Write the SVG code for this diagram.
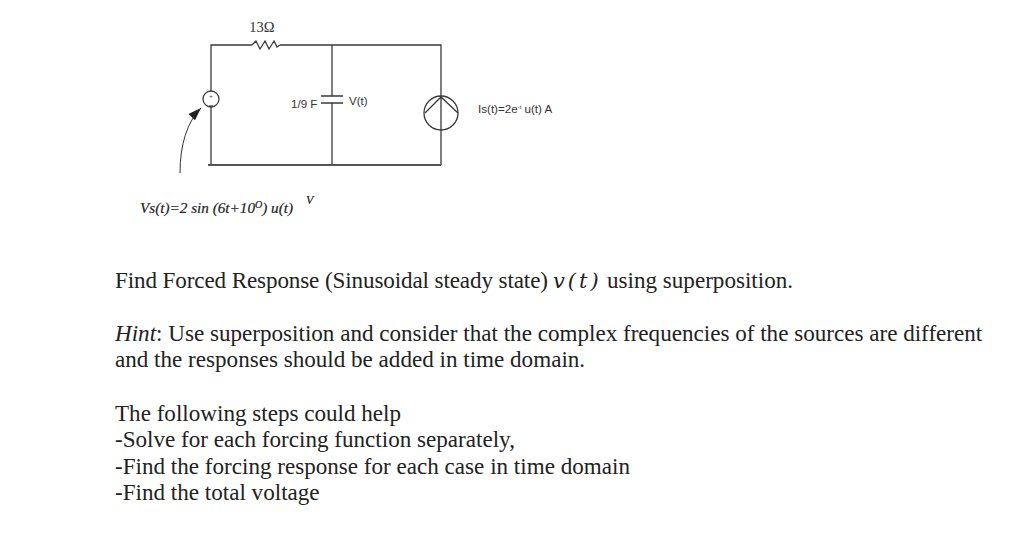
<svg xmlns="http://www.w3.org/2000/svg" width="1024" height="551" viewBox="0 0 1024 551">
<style>
.w{fill:none;stroke:#3a3a3a;stroke-width:1.3}
.b{fill:none;stroke:#555;stroke-width:1.8}
.s{font-family:"Liberation Sans",Arial,sans-serif;font-size:11.6px;fill:#333}
.i{font-family:"Liberation Serif","Times New Roman",serif;font-style:italic;font-size:15.2px;fill:#222;stroke:#222;stroke-width:0.2px}
.t{font-family:"Liberation Serif","Times New Roman",serif;font-size:23.1px;fill:#222}
.m{font-family:"DejaVu Serif",serif;font-style:italic;font-size:21px;letter-spacing:3px;fill:#222}
</style>
<defs><marker id="ah" markerWidth="14" markerHeight="10" refX="13" refY="4.500" orient="auto" markerUnits="userSpaceOnUse"><path d="M0,0L13,4.500L0,9Z" fill="#222"/></marker></defs>
<rect width="1024" height="551" fill="#fff"/>
<g id="connectors">
<path class="w" d="M211,91V45H252"/>
<path class="w" d="M280,45H441V97"/>
<path class="w" d="M332,45V96"/>
<path class="w" d="M332,103V165"/>
<path class="w" d="M211,107V165"/>
<path class="w" d="M441,130V165"/>
<path class="b" d="M208,165H441"/>
<path fill="none" stroke="#333" stroke-width="1" d="M180,173C180,145 187,122 201,108" marker-end="url(#ah)"/>
</g>
<g id="resistor"><path class="w" d="M252,45L256,41L260,49L265,41L269,49L274,41L277,47L280,45"/><text x="262" y="32" text-anchor="middle" font-family="Liberation Serif,serif" font-size="14.5" fill="#333">13Ω</text></g>
<g id="vsource"><circle class="w" cx="211" cy="99" r="8"/><text x="211" y="98" text-anchor="middle" font-family="Liberation Sans,sans-serif" font-size="6" fill="#333">+</text><path class="w" stroke-width="0.8" d="M209,106H213" /></g>
<g id="capacitor"><path class="w" d="M321,96H343M321,103H343"/><text class="s" x="291" y="108">1/9 F</text><text class="s" x="349" y="105">V(t)</text></g>
<g id="isource"><circle class="w" cx="441" cy="113" r="17"/><path class="w" d="M425,113L441,97L458,113M441,97V130"/><text class="s" x="478" y="113">Is(t)=2e<tspan style="font-size:6px" dy="-4">-t</tspan><tspan dy="4"> u(t) A</tspan></text></g>
<g id="vs-label"><text class="i" x="140" y="213">Vs(t)=2 sin (6t+10<tspan style="font-size:10px" dy="-5">O</tspan><tspan dy="5">) u(t)</tspan></text><text class="i" style="font-size:12px" x="306" y="204">V</text></g>
<g id="body">
<text class="t" x="115" y="287.500" textLength="433" lengthAdjust="spacing">Find Forced Response (Sinusoidal steady state)</text>
<text class="m" x="553" y="287.500">v(t)</text>
<text class="t" x="607" y="287.500">using superposition.</text>
<text class="t" x="115" y="340.500"><tspan font-style="italic">Hint</tspan>: Use superposition and consider that the complex frequencies of the sources are different</text>
<text class="t" x="115" y="366.500">and the responses should be added in time domain.</text>
<text class="t" x="115" y="420.500">The following steps could help</text>
<text class="t" x="115" y="446.500">-Solve for each forcing function separately,</text>
<text class="t" x="115" y="473.500">-Find the forcing response for each case in time domain</text>
<text class="t" x="115" y="499.500">-Find the total voltage</text>
</g>
</svg>
